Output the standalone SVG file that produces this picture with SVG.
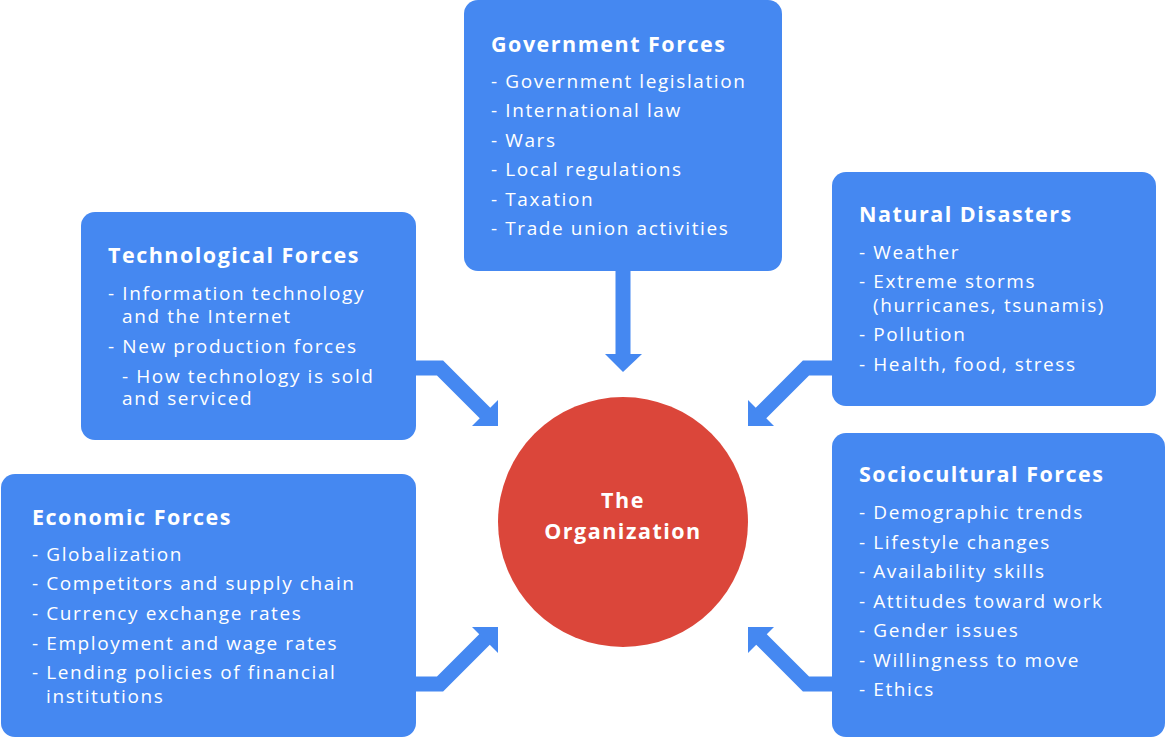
<svg xmlns="http://www.w3.org/2000/svg" width="1166" height="738" viewBox="0 0 1166 738">
<style>
.box{fill:#4588F1}
.t{font-family:"Open Sans","Liberation Sans",sans-serif;fill:#fff;font-size:19px;letter-spacing:1.6px}
.h{font-size:21.5px;font-weight:bold;letter-spacing:1.5px}
.ln{fill:none;stroke:#4588F1;stroke-width:15}
.hd{fill:#4588F1}
</style>
<rect width="1166" height="738" fill="#fff"/>
<g id="connectors">
<path class="ln" d="M623,271 V356"/><polygon class="hd" points="605,354 642,354 623,372"/>
<path class="ln" d="M416,368 H440 L488,416"/><polygon class="hd" points="498,426 472,426 498,400"/>
<path class="ln" d="M832,368 H806 L758,416"/><polygon class="hd" points="748,426 774,426 748,400"/>
<path class="ln" d="M416,684 H440 L488,636"/><polygon class="hd" points="498,627 472,627 498,653"/>
<path class="ln" d="M832,684 H806 L758,636"/><polygon class="hd" points="748,627 774,627 748,653"/>
</g>
<g id="gov"><rect class="box" x="464" y="0" width="318" height="271" rx="14"/>
<text class="t h" x="491" y="52">Government Forces</text>
<text class="t" x="491" y="88">- Government legislation</text>
<text class="t" x="491" y="117">- International law</text>
<text class="t" x="491" y="147">- Wars</text>
<text class="t" x="491" y="176">- Local regulations</text>
<text class="t" x="491" y="206">- Taxation</text>
<text class="t" x="491" y="235">- Trade union activities</text></g>
<g id="tech"><rect class="box" x="81" y="212" width="335" height="228" rx="14"/>
<text class="t h" x="108" y="263">Technological Forces</text>
<text class="t" x="108" y="300">- Information technology</text>
<text class="t" x="122" y="323">and the Internet</text>
<text class="t" x="108" y="353">- New production forces</text>
<text class="t" x="122" y="383">- How technology is sold</text>
<text class="t" x="122" y="405">and serviced</text></g>
<g id="natural"><rect class="box" x="832" y="172" width="324" height="234" rx="14"/>
<text class="t h" x="859" y="222">Natural Disasters</text>
<text class="t" x="859" y="259">- Weather</text>
<text class="t" x="859" y="288">- Extreme storms</text>
<text class="t" x="873" y="312">(hurricanes, tsunamis)</text>
<text class="t" x="859" y="341">- Pollution</text>
<text class="t" x="859" y="371">- Health, food, stress</text></g>
<g id="econ"><rect class="box" x="1" y="474" width="415" height="263" rx="14"/>
<text class="t h" x="32" y="525">Economic Forces</text>
<text class="t" x="32" y="561">- Globalization</text>
<text class="t" x="32" y="590">- Competitors and supply chain</text>
<text class="t" x="32" y="620">- Currency exchange rates</text>
<text class="t" x="32" y="650">- Employment and wage rates</text>
<text class="t" x="32" y="679">- Lending policies of financial</text>
<text class="t" x="46" y="703">institutions</text></g>
<g id="socio"><rect class="box" x="832" y="433" width="333" height="304" rx="14"/>
<text class="t h" x="859" y="482">Sociocultural Forces</text>
<text class="t" x="859" y="519">- Demographic trends</text>
<text class="t" x="859" y="549">- Lifestyle changes</text>
<text class="t" x="859" y="578">- Availability skills</text>
<text class="t" x="859" y="608">- Attitudes toward work</text>
<text class="t" x="859" y="637">- Gender issues</text>
<text class="t" x="859" y="667">- Willingness to move</text>
<text class="t" x="859" y="696">- Ethics</text></g>
<g id="org"><circle cx="623" cy="522" r="125" fill="#DB463A"/>
<text class="t h" x="623" y="508" text-anchor="middle">The</text>
<text class="t h" x="623" y="539" text-anchor="middle">Organization</text></g>
</svg>
